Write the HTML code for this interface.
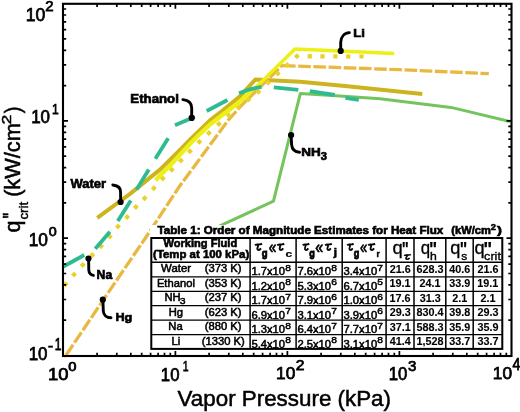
<!DOCTYPE html>
<html><head><meta charset="utf-8"><style>
html,body{margin:0;padding:0;background:#fff;}
svg{display:block;}
</style></head><body>
<svg width="520" height="412" viewBox="0 0 520 412">
<rect width="520" height="412" fill="#fff"/>
<path d="M200.0,235.0 L273.5,201.2 L300.3,93.6 L340.0,96.0 L380.0,98.8 L451.0,107.4 L510.0,121.6" fill="none" stroke="#74c45c" stroke-width="3" stroke-linecap="butt" stroke-linejoin="round"/>
<path d="M97.3,217.8 L130.0,193.9 L160.0,169.6 L182.0,148.0 L191.0,138.6 L211.0,119.5 L222.0,111.0 L240.0,96.4 L255.3,79.6 L300.0,81.8 L350.0,86.6 L422.3,94.0" fill="none" stroke="#cdb41e" stroke-width="4" stroke-linecap="butt" stroke-linejoin="round"/>
<path d="M64.5,357.5 L105.3,296.9 L145.3,238.2 L178.8,187.3 L228.0,120.5 L241.0,105.9 L258.0,89.2 L283.0,64.5" fill="none" stroke="#e8b840" stroke-width="3.3" stroke-linecap="butt" stroke-linejoin="round" stroke-dasharray="12.5 2.5" stroke-dashoffset="12.15"/>
<path d="M283.0,65.6 L400.0,69.7 L488.8,73.7" fill="none" stroke="#e8b840" stroke-width="3.3" stroke-linecap="butt" stroke-linejoin="round" stroke-dasharray="12.6 2.6"/>
<path d="M68.5,284.1 L65.3,281.3 L62.5,284.5 L65.7,287.3 Z M77.0,274.4 L73.8,271.6 L71.0,274.8 L74.2,277.6 Z M85.7,264.8 L82.6,261.9 L79.7,265.0 L82.8,267.9 Z M95.2,254.9 L92.2,251.9 L89.2,254.9 L92.2,257.9 Z M104.1,246.1 L101.0,243.2 L98.1,246.3 L101.2,249.2 Z M112.8,236.4 L109.6,233.6 L106.8,236.8 L110.0,239.6 Z M121.0,226.3 L117.8,223.5 L115.0,226.7 L118.2,229.5 Z M130.1,217.0 L127.0,214.1 L124.1,217.2 L127.2,220.1 Z M138.9,206.8 L135.8,203.9 L132.9,207.0 L136.0,209.9 Z M147.6,198.1 L144.5,195.2 L141.6,198.3 L144.7,201.2 Z M156.8,188.1 L153.7,185.2 L150.8,188.3 L153.9,191.2 Z M165.8,178.6 L162.8,175.6 L159.8,178.6 L162.8,181.6 Z M174.8,169.7 L171.8,166.7 L168.8,169.7 L171.8,172.7 Z M183.9,160.4 L180.9,157.4 L177.9,160.4 L180.9,163.4 Z M192.9,151.2 L189.9,148.2 L186.9,151.2 L189.9,154.2 Z M202.3,141.9 L199.4,138.8 L196.3,141.7 L199.2,144.8 Z M211.9,133.2 L209.0,130.1 L205.9,133.0 L208.8,136.1 Z M221.9,124.2 L219.1,121.0 L215.9,123.8 L218.7,127.0 Z M231.7,115.4 L228.9,112.2 L225.7,115.0 L228.5,118.2 Z M241.5,107.7 L238.9,104.3 L235.5,106.9 L238.1,110.3 Z M251.4,100.0 L248.8,96.6 L245.4,99.2 L248.0,102.6 Z M261.4,92.0 L258.6,88.8 L255.4,91.6 L258.2,94.8 Z M271.2,82.7 L268.3,79.6 L265.2,82.5 L268.1,85.6 Z M280.8,73.5 L277.9,70.4 L274.8,73.3 L277.7,76.4 Z M290.2,65.1 L287.4,61.9 L284.2,64.7 L287.0,67.9 Z M293.9,56.3 L296.9,53.3 L299.9,56.3 L296.9,59.3 Z M311.9,58.5 L312.0,54.2 L307.7,54.1 L307.6,58.4 Z M324.6,58.6 L324.7,54.3 L320.4,54.2 L320.3,58.5 Z M337.5,58.6 L337.6,54.3 L333.3,54.2 L333.2,58.5 Z M350.4,58.7 L350.5,54.4 L346.2,54.3 L346.1,58.6 Z M363.6,58.6 L363.6,54.4 L359.4,54.4 L359.4,58.6 Z" fill="#ebd22a"/>
<path d="M155.5,180.2 L170.0,165.6 L182.0,152.5 L191.0,142.8 L200.0,133.8 L211.0,123.7 L222.0,115.3 L240.0,101.5 L250.0,92.4" fill="none" stroke="#ecf014" stroke-width="4.3" stroke-linecap="butt" stroke-linejoin="round"/>
<path d="M240.0,101.5 L258.0,85.2 L294.9,49.0 L394.2,53.5" fill="none" stroke="#ecf014" stroke-width="3.4" stroke-linecap="butt" stroke-linejoin="round"/>
<path d="M63.4,266.5 L84.3,255.0 M95.3,248.8 L109.9,231.8 M117.8,220.9 L130.8,200.4 M136.6,189.5 L148.8,169.6 M155.4,158.7 L168.2,138.3 M175.0,125.3 L194.8,116.8 M206.7,111.0 L227.5,100.0 M239.0,93.3 L250.0,89.3 L261.5,86.8 M273.8,87.3 L298.3,89.8 M309.8,91.2 L334.8,95.0 M345.4,97.9 L358.8,99.8" fill="none" stroke="#2fbb92" stroke-width="3.8" stroke-linecap="butt" stroke-linejoin="round"/>
<path d="M112.8,185 C118,185.5 121,188 120.6,193 L120.6,202" fill="none" stroke="#000" stroke-width="2.9" stroke-linecap="round"/>
<circle cx="120.6" cy="202.0" r="3.1" fill="#000"/>
<text x="70.41" y="187.78" font-family="'Liberation Sans', Arial, sans-serif" font-size="13.44" font-weight="bold" textLength="35.66" lengthAdjust="spacingAndGlyphs" fill="#000" stroke="#000" stroke-width="0.65">Water</text>
<path d="M182.9,99.6 C188.5,100.2 191.7,103 191.7,108 L191.7,118" fill="none" stroke="#000" stroke-width="2.9" stroke-linecap="round"/>
<circle cx="191.7" cy="117.9" r="3.1" fill="#000"/>
<text x="130.34" y="103.47" font-family="'Liberation Sans', Arial, sans-serif" font-size="11.94" font-weight="bold" textLength="48.57" lengthAdjust="spacingAndGlyphs" fill="#000" stroke="#000" stroke-width="0.65">Ethanol</text>
<path d="M88.6,258.5 L88.8,270 C89,273 91,275 93.4,275.4" fill="none" stroke="#000" stroke-width="2.9" stroke-linecap="round"/>
<circle cx="88.5" cy="258.5" r="3.1" fill="#000"/>
<text x="96.61" y="278.57" font-family="'Liberation Sans', Arial, sans-serif" font-size="11.85" font-weight="bold" textLength="15.59" lengthAdjust="spacingAndGlyphs" fill="#000" stroke="#000" stroke-width="0.65">Na</text>
<path d="M102.9,299.7 L103.3,311 C103.5,315 106.5,317.7 111,317.8" fill="none" stroke="#000" stroke-width="2.9" stroke-linecap="round"/>
<circle cx="102.8" cy="299.7" r="3.1" fill="#000"/>
<text x="115.48" y="321.28" font-family="'Liberation Sans', Arial, sans-serif" font-size="11.70" font-weight="bold" textLength="16.84" lengthAdjust="spacingAndGlyphs" fill="#000" stroke="#000" stroke-width="0.65">Hg</text>
<path d="M291.1,135 L291.6,144.6 C292,149 295,152 299.6,152.2" fill="none" stroke="#000" stroke-width="2.9" stroke-linecap="round"/>
<circle cx="291.1" cy="135" r="3.1" fill="#000"/>
<text x="301.22" y="156.38" font-family="'Liberation Sans', Arial, sans-serif" font-size="11.12" font-weight="bold" textLength="19.46" lengthAdjust="spacingAndGlyphs" fill="#000" stroke="#000" stroke-width="0.65">NH</text>
<text x="320.87" y="160.08" font-family="'Liberation Sans', Arial, sans-serif" font-size="11.67" font-weight="bold" textLength="6.21" lengthAdjust="spacingAndGlyphs" fill="#000" stroke="#000" stroke-width="0.65">3</text>
<path d="M340.7,50.9 L340.7,42.3 C341,37 344,33 349.4,32.6" fill="none" stroke="#000" stroke-width="2.9" stroke-linecap="round"/>
<circle cx="340.7" cy="50.9" r="3.1" fill="#000"/>
<text x="353.35" y="37.17" font-family="'Liberation Sans', Arial, sans-serif" font-size="11.39" font-weight="bold" textLength="11.66" lengthAdjust="spacingAndGlyphs" fill="#000" stroke="#000" stroke-width="0.65">Li</text>
<rect x="150" y="225" width="354" height="125" fill="#fff"/>
<text x="157.47" y="234.40" font-family="'Liberation Sans', Arial, sans-serif" font-size="10.07" font-weight="bold" textLength="285.81" lengthAdjust="spacingAndGlyphs" fill="#000" stroke="#000" stroke-width="0.6">Table 1: Order of Magnitude Estimates for Heat Flux</text>
<text x="451.25" y="234.40" font-family="'Liberation Sans', Arial, sans-serif" font-size="10.76" font-weight="bold" textLength="39.54" lengthAdjust="spacingAndGlyphs" fill="#000" stroke="#000" stroke-width="0.6">(kW/cm</text>
<text x="490.83" y="229.55" font-family="'Liberation Sans', Arial, sans-serif" font-size="9.17" font-weight="bold" textLength="5.20" lengthAdjust="spacingAndGlyphs" fill="#000" stroke="#000" stroke-width="0.5">2</text>
<text x="496.99" y="234.40" font-family="'Liberation Sans', Arial, sans-serif" font-size="10.76" font-weight="bold" textLength="4.96" lengthAdjust="spacingAndGlyphs" fill="#000" stroke="#000" stroke-width="0.6">)</text>
<rect x="151.3" y="238.0" width="351.0" height="110.89999999999998" fill="none" stroke="#000" stroke-width="2"/>
<line x1="151.3" y1="262.3" x2="502.3" y2="262.3" stroke="#000" stroke-width="1.6"/>
<line x1="151.3" y1="276.9" x2="502.3" y2="276.9" stroke="#000" stroke-width="1.3"/>
<line x1="151.3" y1="291.3" x2="502.3" y2="291.3" stroke="#000" stroke-width="1.3"/>
<line x1="151.3" y1="305.7" x2="502.3" y2="305.7" stroke="#000" stroke-width="1.3"/>
<line x1="151.3" y1="320.2" x2="502.3" y2="320.2" stroke="#000" stroke-width="1.3"/>
<line x1="151.3" y1="334.7" x2="502.3" y2="334.7" stroke="#000" stroke-width="1.3"/>
<line x1="250.1" y1="238.0" x2="250.1" y2="348.9" stroke="#000" stroke-width="1.5"/>
<line x1="296.1" y1="238.0" x2="296.1" y2="348.9" stroke="#000" stroke-width="1.5"/>
<line x1="342.2" y1="238.0" x2="342.2" y2="348.9" stroke="#000" stroke-width="1.5"/>
<line x1="386.1" y1="238.0" x2="386.1" y2="348.9" stroke="#000" stroke-width="1.5"/>
<line x1="414.0" y1="238.0" x2="414.0" y2="348.9" stroke="#000" stroke-width="1.5"/>
<line x1="445.8" y1="238.0" x2="445.8" y2="348.9" stroke="#000" stroke-width="1.5"/>
<line x1="473.2" y1="238.0" x2="473.2" y2="348.9" stroke="#000" stroke-width="1.5"/>
<text x="163.46" y="246.82" font-family="'Liberation Sans', Arial, sans-serif" font-size="10.10" font-weight="bold" textLength="73.79" lengthAdjust="spacingAndGlyphs" fill="#000" stroke="#000" stroke-width="0.55">Working Fluid</text>
<text x="153.11" y="257.93" font-family="'Liberation Sans', Arial, sans-serif" font-size="10.70" font-weight="bold" textLength="96.08" lengthAdjust="spacingAndGlyphs" fill="#000" stroke="#000" stroke-width="0.55">(Temp at 100 kPa)</text>
<text x="252.13" y="251.49" font-family="IPAGothic, 'Liberation Sans', sans-serif" font-size="13.48" textLength="13.01" lengthAdjust="spacingAndGlyphs" fill="#000" stroke="#000" stroke-width="0.85" transform="translate(252.13,251.49) skewX(4) translate(-252.13,-251.49)">τ</text>
<text x="261.71" y="256.84" font-family="'Liberation Sans', Arial, sans-serif" font-size="10.66" font-weight="bold" textLength="5.83" lengthAdjust="spacingAndGlyphs" fill="#000" stroke="#000" stroke-width="0.8">g</text>
<text x="268.70" y="253.05" font-family="'Liberation Sans', Arial, sans-serif" font-size="17.43" textLength="7.61" lengthAdjust="spacingAndGlyphs" fill="#000" stroke="#000" stroke-width="0.7">«</text>
<text x="274.63" y="251.49" font-family="IPAGothic, 'Liberation Sans', sans-serif" font-size="13.48" textLength="13.01" lengthAdjust="spacingAndGlyphs" fill="#000" stroke="#000" stroke-width="0.85" transform="translate(274.63,251.49) skewX(4) translate(-274.63,-251.49)">τ</text>
<text x="285.54" y="257.12" font-family="'Liberation Sans', Arial, sans-serif" font-size="8.21" font-weight="bold" textLength="6.61" lengthAdjust="spacingAndGlyphs" fill="#000" stroke="#000" stroke-width="0.2">c</text>
<text x="300.16" y="251.49" font-family="IPAGothic, 'Liberation Sans', sans-serif" font-size="13.48" textLength="12.07" lengthAdjust="spacingAndGlyphs" fill="#000" stroke="#000" stroke-width="0.85" transform="translate(300.16,251.49) skewX(4) translate(-300.16,-251.49)">τ</text>
<text x="309.22" y="256.84" font-family="'Liberation Sans', Arial, sans-serif" font-size="10.66" font-weight="bold" textLength="5.59" lengthAdjust="spacingAndGlyphs" fill="#000" stroke="#000" stroke-width="0.8">g</text>
<text x="315.37" y="253.05" font-family="'Liberation Sans', Arial, sans-serif" font-size="17.43" textLength="7.96" lengthAdjust="spacingAndGlyphs" fill="#000" stroke="#000" stroke-width="0.7">«</text>
<text x="322.57" y="251.49" font-family="IPAGothic, 'Liberation Sans', sans-serif" font-size="13.48" textLength="12.45" lengthAdjust="spacingAndGlyphs" fill="#000" stroke="#000" stroke-width="0.85" transform="translate(322.57,251.49) skewX(4) translate(-322.57,-251.49)">τ</text>
<text x="333.53" y="256.05" font-family="'Liberation Sans', Arial, sans-serif" font-size="11.21" font-weight="bold" textLength="3.67" lengthAdjust="spacingAndGlyphs" fill="#000" stroke="#000" stroke-width="0.45">j</text>
<text x="344.71" y="251.49" font-family="IPAGothic, 'Liberation Sans', sans-serif" font-size="13.48" textLength="11.89" lengthAdjust="spacingAndGlyphs" fill="#000" stroke="#000" stroke-width="0.85" transform="translate(344.71,251.49) skewX(4) translate(-344.71,-251.49)">τ</text>
<text x="353.72" y="256.84" font-family="'Liberation Sans', Arial, sans-serif" font-size="10.66" font-weight="bold" textLength="5.59" lengthAdjust="spacingAndGlyphs" fill="#000" stroke="#000" stroke-width="0.8">g</text>
<text x="360.12" y="253.05" font-family="'Liberation Sans', Arial, sans-serif" font-size="17.43" textLength="7.26" lengthAdjust="spacingAndGlyphs" fill="#000" stroke="#000" stroke-width="0.7">«</text>
<text x="365.48" y="251.49" font-family="IPAGothic, 'Liberation Sans', sans-serif" font-size="13.48" textLength="12.82" lengthAdjust="spacingAndGlyphs" fill="#000" stroke="#000" stroke-width="0.85" transform="translate(365.48,251.49) skewX(4) translate(-365.48,-251.49)">τ</text>
<text x="376.38" y="257.38" font-family="'Liberation Sans', Arial, sans-serif" font-size="8.63" font-weight="bold" textLength="3.22" lengthAdjust="spacingAndGlyphs" fill="#000" stroke="#000" stroke-width="0.45">r</text>
<text x="392.58" y="253.73" font-family="'Liberation Sans', Arial, sans-serif" font-size="17.44" textLength="10.25" lengthAdjust="spacingAndGlyphs" fill="#000" stroke="#000" stroke-width="0.3">q</text>
<text x="401.72" y="255.54" font-family="'Liberation Sans', Arial, sans-serif" font-size="20.84" font-weight="bold" textLength="7.06" lengthAdjust="spacingAndGlyphs" fill="#000" stroke="#000" stroke-width="0.2">&quot;</text>
<text x="401.14" y="260.11" font-family="IPAGothic, 'Liberation Sans', sans-serif" font-size="10.18" textLength="12.54" lengthAdjust="spacingAndGlyphs" fill="#000" stroke="#000" stroke-width="0.6">τ</text>
<text x="420.84" y="253.73" font-family="'Liberation Sans', Arial, sans-serif" font-size="17.44" textLength="9.39" lengthAdjust="spacingAndGlyphs" fill="#000" stroke="#000" stroke-width="0.3">q</text>
<text x="429.06" y="255.54" font-family="'Liberation Sans', Arial, sans-serif" font-size="20.84" font-weight="bold" textLength="8.17" lengthAdjust="spacingAndGlyphs" fill="#000" stroke="#000" stroke-width="0.2">&quot;</text>
<text x="430.03" y="260.33" font-family="'Liberation Sans', Arial, sans-serif" font-size="10.01" textLength="6.79" lengthAdjust="spacingAndGlyphs" fill="#000" stroke="#000" stroke-width="0.35">h</text>
<text x="450.39" y="253.73" font-family="'Liberation Sans', Arial, sans-serif" font-size="17.44" textLength="10.13" lengthAdjust="spacingAndGlyphs" fill="#000" stroke="#000" stroke-width="0.3">q</text>
<text x="459.86" y="255.54" font-family="'Liberation Sans', Arial, sans-serif" font-size="20.84" font-weight="bold" textLength="7.48" lengthAdjust="spacingAndGlyphs" fill="#000" stroke="#000" stroke-width="0.2">&quot;</text>
<text x="461.24" y="260.42" font-family="'Liberation Sans', Arial, sans-serif" font-size="10.52" textLength="6.02" lengthAdjust="spacingAndGlyphs" fill="#000" stroke="#000" stroke-width="0.35">s</text>
<text x="474.59" y="253.73" font-family="'Liberation Sans', Arial, sans-serif" font-size="17.44" textLength="10.13" lengthAdjust="spacingAndGlyphs" fill="#000" stroke="#000" stroke-width="0.3">q</text>
<text x="483.35" y="255.54" font-family="'Liberation Sans', Arial, sans-serif" font-size="20.84" font-weight="bold" textLength="9.00" lengthAdjust="spacingAndGlyphs" fill="#000" stroke="#000" stroke-width="0.2">&quot;</text>
<text x="484.14" y="260.42" font-family="'Liberation Sans', Arial, sans-serif" font-size="11.10" textLength="16.78" lengthAdjust="spacingAndGlyphs" fill="#000" stroke="#000" stroke-width="0.35">crit</text>
<text x="161.13" y="272.30" font-family="'Liberation Sans', Arial, sans-serif" font-size="10.0" textLength="29.87" lengthAdjust="spacingAndGlyphs" fill="#000" stroke="#000" stroke-width="0.5">Water</text>
<text x="204.84" y="272.30" font-family="'Liberation Sans', Arial, sans-serif" font-size="10.0" textLength="36.73" lengthAdjust="spacingAndGlyphs" fill="#000" stroke="#000" stroke-width="0.5">(373 K)</text>
<text x="251.40" y="275.40" font-family="'Liberation Sans', Arial, sans-serif" font-size="10.4" textLength="33.72" lengthAdjust="spacingAndGlyphs" fill="#000" stroke="#000" stroke-width="0.5">1.7x10</text>
<text x="285.24" y="270.80" font-family="'Liberation Sans', Arial, sans-serif" font-size="9.8" textLength="5.72" lengthAdjust="spacingAndGlyphs" fill="#000" stroke="#000" stroke-width="0.5">8</text>
<text x="297.40" y="275.40" font-family="'Liberation Sans', Arial, sans-serif" font-size="10.4" textLength="33.72" lengthAdjust="spacingAndGlyphs" fill="#000" stroke="#000" stroke-width="0.5">7.6x10</text>
<text x="331.24" y="270.80" font-family="'Liberation Sans', Arial, sans-serif" font-size="9.8" textLength="5.72" lengthAdjust="spacingAndGlyphs" fill="#000" stroke="#000" stroke-width="0.5">8</text>
<text x="343.50" y="275.40" font-family="'Liberation Sans', Arial, sans-serif" font-size="10.4" textLength="33.72" lengthAdjust="spacingAndGlyphs" fill="#000" stroke="#000" stroke-width="0.5">3.4x10</text>
<text x="377.26" y="270.80" font-family="'Liberation Sans', Arial, sans-serif" font-size="9.8" textLength="5.72" lengthAdjust="spacingAndGlyphs" fill="#000" stroke="#000" stroke-width="0.5">7</text>
<text x="389.75" y="272.80" font-family="'Liberation Sans', Arial, sans-serif" font-size="10.8" font-weight="bold" fill="#000" stroke="#000" stroke-width="0.1">21.6</text>
<text x="416.58" y="272.80" font-family="'Liberation Sans', Arial, sans-serif" font-size="10.8" font-weight="bold" fill="#000" stroke="#000" stroke-width="0.1">628.3</text>
<text x="449.30" y="272.80" font-family="'Liberation Sans', Arial, sans-serif" font-size="10.8" font-weight="bold" fill="#000" stroke="#000" stroke-width="0.1">40.6</text>
<text x="477.45" y="272.80" font-family="'Liberation Sans', Arial, sans-serif" font-size="10.8" font-weight="bold" fill="#000" stroke="#000" stroke-width="0.1">21.6</text>
<text x="156.92" y="286.90" font-family="'Liberation Sans', Arial, sans-serif" font-size="10.0" textLength="37.99" lengthAdjust="spacingAndGlyphs" fill="#000" stroke="#000" stroke-width="0.5">Ethanol</text>
<text x="204.84" y="286.90" font-family="'Liberation Sans', Arial, sans-serif" font-size="10.0" textLength="36.73" lengthAdjust="spacingAndGlyphs" fill="#000" stroke="#000" stroke-width="0.5">(353 K)</text>
<text x="251.40" y="290.00" font-family="'Liberation Sans', Arial, sans-serif" font-size="10.4" textLength="33.72" lengthAdjust="spacingAndGlyphs" fill="#000" stroke="#000" stroke-width="0.5">1.2x10</text>
<text x="285.24" y="285.40" font-family="'Liberation Sans', Arial, sans-serif" font-size="9.8" textLength="5.72" lengthAdjust="spacingAndGlyphs" fill="#000" stroke="#000" stroke-width="0.5">8</text>
<text x="297.40" y="290.00" font-family="'Liberation Sans', Arial, sans-serif" font-size="10.4" textLength="33.72" lengthAdjust="spacingAndGlyphs" fill="#000" stroke="#000" stroke-width="0.5">5.3x10</text>
<text x="331.16" y="285.40" font-family="'Liberation Sans', Arial, sans-serif" font-size="9.8" textLength="5.72" lengthAdjust="spacingAndGlyphs" fill="#000" stroke="#000" stroke-width="0.5">6</text>
<text x="343.50" y="290.00" font-family="'Liberation Sans', Arial, sans-serif" font-size="10.4" textLength="33.72" lengthAdjust="spacingAndGlyphs" fill="#000" stroke="#000" stroke-width="0.5">6.7x10</text>
<text x="377.37" y="285.40" font-family="'Liberation Sans', Arial, sans-serif" font-size="9.8" textLength="5.72" lengthAdjust="spacingAndGlyphs" fill="#000" stroke="#000" stroke-width="0.5">5</text>
<text x="389.55" y="287.40" font-family="'Liberation Sans', Arial, sans-serif" font-size="10.8" font-weight="bold" fill="#000" stroke="#000" stroke-width="0.1">19.1</text>
<text x="419.55" y="287.40" font-family="'Liberation Sans', Arial, sans-serif" font-size="10.8" font-weight="bold" fill="#000" stroke="#000" stroke-width="0.1">24.1</text>
<text x="449.27" y="287.40" font-family="'Liberation Sans', Arial, sans-serif" font-size="10.8" font-weight="bold" fill="#000" stroke="#000" stroke-width="0.1">33.9</text>
<text x="477.25" y="287.40" font-family="'Liberation Sans', Arial, sans-serif" font-size="10.8" font-weight="bold" fill="#000" stroke="#000" stroke-width="0.1">19.1</text>
<text x="164.48" y="301.30" font-family="'Liberation Sans', Arial, sans-serif" font-size="10.0" textLength="16.18" lengthAdjust="spacingAndGlyphs" fill="#000" stroke="#000" stroke-width="0.5">NH</text>
<text x="179.75" y="304.30" font-family="'Liberation Sans', Arial, sans-serif" font-size="9.5" textLength="5.81" lengthAdjust="spacingAndGlyphs" fill="#000" stroke="#000" stroke-width="0.5">3</text>
<text x="204.84" y="301.30" font-family="'Liberation Sans', Arial, sans-serif" font-size="10.0" textLength="36.73" lengthAdjust="spacingAndGlyphs" fill="#000" stroke="#000" stroke-width="0.5">(237 K)</text>
<text x="251.40" y="304.40" font-family="'Liberation Sans', Arial, sans-serif" font-size="10.4" textLength="33.72" lengthAdjust="spacingAndGlyphs" fill="#000" stroke="#000" stroke-width="0.5">1.7x10</text>
<text x="285.16" y="299.80" font-family="'Liberation Sans', Arial, sans-serif" font-size="9.8" textLength="5.72" lengthAdjust="spacingAndGlyphs" fill="#000" stroke="#000" stroke-width="0.5">7</text>
<text x="297.40" y="304.40" font-family="'Liberation Sans', Arial, sans-serif" font-size="10.4" textLength="33.72" lengthAdjust="spacingAndGlyphs" fill="#000" stroke="#000" stroke-width="0.5">7.9x10</text>
<text x="331.16" y="299.80" font-family="'Liberation Sans', Arial, sans-serif" font-size="9.8" textLength="5.72" lengthAdjust="spacingAndGlyphs" fill="#000" stroke="#000" stroke-width="0.5">6</text>
<text x="343.50" y="304.40" font-family="'Liberation Sans', Arial, sans-serif" font-size="10.4" textLength="33.72" lengthAdjust="spacingAndGlyphs" fill="#000" stroke="#000" stroke-width="0.5">1.0x10</text>
<text x="377.26" y="299.80" font-family="'Liberation Sans', Arial, sans-serif" font-size="9.8" textLength="5.72" lengthAdjust="spacingAndGlyphs" fill="#000" stroke="#000" stroke-width="0.5">6</text>
<text x="389.60" y="301.80" font-family="'Liberation Sans', Arial, sans-serif" font-size="10.8" font-weight="bold" fill="#000" stroke="#000" stroke-width="0.1">17.6</text>
<text x="419.66" y="301.80" font-family="'Liberation Sans', Arial, sans-serif" font-size="10.8" font-weight="bold" fill="#000" stroke="#000" stroke-width="0.1">31.3</text>
<text x="452.16" y="301.80" font-family="'Liberation Sans', Arial, sans-serif" font-size="10.8" font-weight="bold" fill="#000" stroke="#000" stroke-width="0.1">2.1</text>
<text x="480.41" y="301.80" font-family="'Liberation Sans', Arial, sans-serif" font-size="10.8" font-weight="bold" fill="#000" stroke="#000" stroke-width="0.1">2.1</text>
<text x="168.74" y="315.70" font-family="'Liberation Sans', Arial, sans-serif" font-size="10.0" textLength="14.32" lengthAdjust="spacingAndGlyphs" fill="#000" stroke="#000" stroke-width="0.5">Hg</text>
<text x="204.84" y="315.70" font-family="'Liberation Sans', Arial, sans-serif" font-size="10.0" textLength="36.73" lengthAdjust="spacingAndGlyphs" fill="#000" stroke="#000" stroke-width="0.5">(623 K)</text>
<text x="251.40" y="318.80" font-family="'Liberation Sans', Arial, sans-serif" font-size="10.4" textLength="33.72" lengthAdjust="spacingAndGlyphs" fill="#000" stroke="#000" stroke-width="0.5">6.9x10</text>
<text x="285.16" y="314.20" font-family="'Liberation Sans', Arial, sans-serif" font-size="9.8" textLength="5.72" lengthAdjust="spacingAndGlyphs" fill="#000" stroke="#000" stroke-width="0.5">7</text>
<text x="297.40" y="318.80" font-family="'Liberation Sans', Arial, sans-serif" font-size="10.4" textLength="33.72" lengthAdjust="spacingAndGlyphs" fill="#000" stroke="#000" stroke-width="0.5">3.1x10</text>
<text x="331.16" y="314.20" font-family="'Liberation Sans', Arial, sans-serif" font-size="9.8" textLength="5.72" lengthAdjust="spacingAndGlyphs" fill="#000" stroke="#000" stroke-width="0.5">7</text>
<text x="343.50" y="318.80" font-family="'Liberation Sans', Arial, sans-serif" font-size="10.4" textLength="33.72" lengthAdjust="spacingAndGlyphs" fill="#000" stroke="#000" stroke-width="0.5">3.9x10</text>
<text x="377.26" y="314.20" font-family="'Liberation Sans', Arial, sans-serif" font-size="9.8" textLength="5.72" lengthAdjust="spacingAndGlyphs" fill="#000" stroke="#000" stroke-width="0.5">6</text>
<text x="389.75" y="316.20" font-family="'Liberation Sans', Arial, sans-serif" font-size="10.8" font-weight="bold" fill="#000" stroke="#000" stroke-width="0.1">29.3</text>
<text x="416.44" y="316.20" font-family="'Liberation Sans', Arial, sans-serif" font-size="10.8" font-weight="bold" fill="#000" stroke="#000" stroke-width="0.1">830.4</text>
<text x="449.23" y="316.20" font-family="'Liberation Sans', Arial, sans-serif" font-size="10.8" font-weight="bold" fill="#000" stroke="#000" stroke-width="0.1">39.8</text>
<text x="477.45" y="316.20" font-family="'Liberation Sans', Arial, sans-serif" font-size="10.8" font-weight="bold" fill="#000" stroke="#000" stroke-width="0.1">29.3</text>
<text x="168.38" y="330.20" font-family="'Liberation Sans', Arial, sans-serif" font-size="10.0" textLength="14.32" lengthAdjust="spacingAndGlyphs" fill="#000" stroke="#000" stroke-width="0.5">Na</text>
<text x="204.84" y="330.20" font-family="'Liberation Sans', Arial, sans-serif" font-size="10.0" textLength="36.73" lengthAdjust="spacingAndGlyphs" fill="#000" stroke="#000" stroke-width="0.5">(880 K)</text>
<text x="251.40" y="333.30" font-family="'Liberation Sans', Arial, sans-serif" font-size="10.4" textLength="33.72" lengthAdjust="spacingAndGlyphs" fill="#000" stroke="#000" stroke-width="0.5">1.3x10</text>
<text x="285.24" y="328.70" font-family="'Liberation Sans', Arial, sans-serif" font-size="9.8" textLength="5.72" lengthAdjust="spacingAndGlyphs" fill="#000" stroke="#000" stroke-width="0.5">8</text>
<text x="297.40" y="333.30" font-family="'Liberation Sans', Arial, sans-serif" font-size="10.4" textLength="33.72" lengthAdjust="spacingAndGlyphs" fill="#000" stroke="#000" stroke-width="0.5">6.4x10</text>
<text x="331.16" y="328.70" font-family="'Liberation Sans', Arial, sans-serif" font-size="9.8" textLength="5.72" lengthAdjust="spacingAndGlyphs" fill="#000" stroke="#000" stroke-width="0.5">7</text>
<text x="343.50" y="333.30" font-family="'Liberation Sans', Arial, sans-serif" font-size="10.4" textLength="33.72" lengthAdjust="spacingAndGlyphs" fill="#000" stroke="#000" stroke-width="0.5">7.7x10</text>
<text x="377.26" y="328.70" font-family="'Liberation Sans', Arial, sans-serif" font-size="9.8" textLength="5.72" lengthAdjust="spacingAndGlyphs" fill="#000" stroke="#000" stroke-width="0.5">7</text>
<text x="389.77" y="330.70" font-family="'Liberation Sans', Arial, sans-serif" font-size="10.8" font-weight="bold" fill="#000" stroke="#000" stroke-width="0.1">37.1</text>
<text x="416.62" y="330.70" font-family="'Liberation Sans', Arial, sans-serif" font-size="10.8" font-weight="bold" fill="#000" stroke="#000" stroke-width="0.1">588.3</text>
<text x="449.27" y="330.70" font-family="'Liberation Sans', Arial, sans-serif" font-size="10.8" font-weight="bold" fill="#000" stroke="#000" stroke-width="0.1">35.9</text>
<text x="477.52" y="330.70" font-family="'Liberation Sans', Arial, sans-serif" font-size="10.8" font-weight="bold" fill="#000" stroke="#000" stroke-width="0.1">35.9</text>
<text x="171.56" y="344.70" font-family="'Liberation Sans', Arial, sans-serif" font-size="10.0" textLength="8.72" lengthAdjust="spacingAndGlyphs" fill="#000" stroke="#000" stroke-width="0.5">Li</text>
<text x="201.72" y="344.70" font-family="'Liberation Sans', Arial, sans-serif" font-size="10.0" textLength="42.96" lengthAdjust="spacingAndGlyphs" fill="#000" stroke="#000" stroke-width="0.5">(1330 K)</text>
<text x="251.40" y="347.80" font-family="'Liberation Sans', Arial, sans-serif" font-size="10.4" textLength="33.72" lengthAdjust="spacingAndGlyphs" fill="#000" stroke="#000" stroke-width="0.5">5.4x10</text>
<text x="285.24" y="343.20" font-family="'Liberation Sans', Arial, sans-serif" font-size="9.8" textLength="5.72" lengthAdjust="spacingAndGlyphs" fill="#000" stroke="#000" stroke-width="0.5">8</text>
<text x="297.40" y="347.80" font-family="'Liberation Sans', Arial, sans-serif" font-size="10.4" textLength="33.72" lengthAdjust="spacingAndGlyphs" fill="#000" stroke="#000" stroke-width="0.5">2.5x10</text>
<text x="331.24" y="343.20" font-family="'Liberation Sans', Arial, sans-serif" font-size="9.8" textLength="5.72" lengthAdjust="spacingAndGlyphs" fill="#000" stroke="#000" stroke-width="0.5">8</text>
<text x="343.50" y="347.80" font-family="'Liberation Sans', Arial, sans-serif" font-size="10.4" textLength="33.72" lengthAdjust="spacingAndGlyphs" fill="#000" stroke="#000" stroke-width="0.5">3.1x10</text>
<text x="377.34" y="343.20" font-family="'Liberation Sans', Arial, sans-serif" font-size="9.8" textLength="5.72" lengthAdjust="spacingAndGlyphs" fill="#000" stroke="#000" stroke-width="0.5">8</text>
<text x="389.69" y="345.20" font-family="'Liberation Sans', Arial, sans-serif" font-size="10.8" font-weight="bold" fill="#000" stroke="#000" stroke-width="0.1">41.4</text>
<text x="416.41" y="345.20" font-family="'Liberation Sans', Arial, sans-serif" font-size="10.8" font-weight="bold" fill="#000" stroke="#000" stroke-width="0.1">1,528</text>
<text x="449.30" y="345.20" font-family="'Liberation Sans', Arial, sans-serif" font-size="10.8" font-weight="bold" fill="#000" stroke="#000" stroke-width="0.1">33.7</text>
<text x="477.55" y="345.20" font-family="'Liberation Sans', Arial, sans-serif" font-size="10.8" font-weight="bold" fill="#000" stroke="#000" stroke-width="0.1">33.7</text>
<rect x="63.0" y="3.8" width="448.5" height="352.2" fill="none" stroke="#000" stroke-width="2.1"/>
<path d="M97.1,356.0 v-3.2 M97.1,3.8 v3.2 M116.8,356.0 v-3.2 M116.8,3.8 v3.2 M130.8,356.0 v-3.2 M130.8,3.8 v3.2 M141.7,356.0 v-3.2 M141.7,3.8 v3.2 M150.6,356.0 v-3.2 M150.6,3.8 v3.2 M158.1,356.0 v-3.2 M158.1,3.8 v3.2 M164.5,356.0 v-3.2 M164.5,3.8 v3.2 M170.3,356.0 v-3.2 M170.3,3.8 v3.2 M175.4,356.0 v-5.0 M175.4,3.8 v5.0 M209.1,356.0 v-3.2 M209.1,3.8 v3.2 M228.8,356.0 v-3.2 M228.8,3.8 v3.2 M242.8,356.0 v-3.2 M242.8,3.8 v3.2 M253.7,356.0 v-3.2 M253.7,3.8 v3.2 M262.6,356.0 v-3.2 M262.6,3.8 v3.2 M270.1,356.0 v-3.2 M270.1,3.8 v3.2 M276.5,356.0 v-3.2 M276.5,3.8 v3.2 M282.3,356.0 v-3.2 M282.3,3.8 v3.2 M287.4,356.0 v-5.0 M287.4,3.8 v5.0 M321.1,356.0 v-3.2 M321.1,3.8 v3.2 M340.8,356.0 v-3.2 M340.8,3.8 v3.2 M354.8,356.0 v-3.2 M354.8,3.8 v3.2 M365.7,356.0 v-3.2 M365.7,3.8 v3.2 M374.6,356.0 v-3.2 M374.6,3.8 v3.2 M382.1,356.0 v-3.2 M382.1,3.8 v3.2 M388.5,356.0 v-3.2 M388.5,3.8 v3.2 M394.3,356.0 v-3.2 M394.3,3.8 v3.2 M399.4,356.0 v-5.0 M399.4,3.8 v5.0 M433.1,356.0 v-3.2 M433.1,3.8 v3.2 M452.8,356.0 v-3.2 M452.8,3.8 v3.2 M466.8,356.0 v-3.2 M466.8,3.8 v3.2 M477.7,356.0 v-3.2 M477.7,3.8 v3.2 M486.6,356.0 v-3.2 M486.6,3.8 v3.2 M494.1,356.0 v-3.2 M494.1,3.8 v3.2 M500.5,356.0 v-3.2 M500.5,3.8 v3.2 M506.3,356.0 v-3.2 M506.3,3.8 v3.2 M63.0,320.2 h3.2 M511.5,320.2 h-3.2 M63.0,299.5 h3.2 M511.5,299.5 h-3.2 M63.0,284.9 h3.2 M511.5,284.9 h-3.2 M63.0,273.5 h3.2 M511.5,273.5 h-3.2 M63.0,264.2 h3.2 M511.5,264.2 h-3.2 M63.0,256.4 h3.2 M511.5,256.4 h-3.2 M63.0,249.6 h3.2 M511.5,249.6 h-3.2 M63.0,243.6 h3.2 M511.5,243.6 h-3.2 M63.0,238.2 h5.0 M511.5,238.2 h-5.0 M63.0,202.9 h3.2 M511.5,202.9 h-3.2 M63.0,182.2 h3.2 M511.5,182.2 h-3.2 M63.0,167.6 h3.2 M511.5,167.6 h-3.2 M63.0,156.2 h3.2 M511.5,156.2 h-3.2 M63.0,146.9 h3.2 M511.5,146.9 h-3.2 M63.0,139.1 h3.2 M511.5,139.1 h-3.2 M63.0,132.3 h3.2 M511.5,132.3 h-3.2 M63.0,126.3 h3.2 M511.5,126.3 h-3.2 M63.0,120.9 h5.0 M511.5,120.9 h-5.0 M63.0,85.6 h3.2 M511.5,85.6 h-3.2 M63.0,64.9 h3.2 M511.5,64.9 h-3.2 M63.0,50.3 h3.2 M511.5,50.3 h-3.2 M63.0,38.9 h3.2 M511.5,38.9 h-3.2 M63.0,29.6 h3.2 M511.5,29.6 h-3.2 M63.0,21.8 h3.2 M511.5,21.8 h-3.2 M63.0,15.0 h3.2 M511.5,15.0 h-3.2 M63.0,9.0 h3.2 M511.5,9.0 h-3.2" stroke="#000" stroke-width="1.7" fill="none"/>
<text x="25.68" y="20.82" font-family="'Liberation Sans', Arial, sans-serif" font-size="17.97" textLength="19.63" lengthAdjust="spacingAndGlyphs" fill="#000" stroke="#000" stroke-width="0.75">10</text>
<text x="45.22" y="10.82" font-family="'Liberation Sans', Arial, sans-serif" font-size="14.11" textLength="8.36" lengthAdjust="spacingAndGlyphs" fill="#000" stroke="#000" stroke-width="0.75">2</text>
<text x="31.15" y="123.22" font-family="'Liberation Sans', Arial, sans-serif" font-size="17.54" textLength="18.84" lengthAdjust="spacingAndGlyphs" fill="#000" stroke="#000" stroke-width="0.75">10</text>
<text x="52.01" y="114.03" font-family="'Liberation Sans', Arial, sans-serif" font-size="14.90" textLength="6.72" lengthAdjust="spacingAndGlyphs" fill="#000" stroke="#000" stroke-width="0.75">1</text>
<text x="28.71" y="246.22" font-family="'Liberation Sans', Arial, sans-serif" font-size="17.69" textLength="19.29" lengthAdjust="spacingAndGlyphs" fill="#000" stroke="#000" stroke-width="0.75">10</text>
<text x="48.72" y="236.43" font-family="'Liberation Sans', Arial, sans-serif" font-size="13.25" textLength="7.97" lengthAdjust="spacingAndGlyphs" fill="#000" stroke="#000" stroke-width="0.75">0</text>
<text x="28.65" y="359.52" font-family="'Liberation Sans', Arial, sans-serif" font-size="18.40" textLength="18.84" lengthAdjust="spacingAndGlyphs" fill="#000" stroke="#000" stroke-width="0.75">10</text>
<text x="47.63" y="350.62" font-family="'Liberation Sans', Arial, sans-serif" font-size="16.64" textLength="6.14" lengthAdjust="spacingAndGlyphs" fill="#000" stroke="#000" stroke-width="0.3">-</text>
<text x="54.81" y="350.02" font-family="'Liberation Sans', Arial, sans-serif" font-size="16.50" textLength="6.72" lengthAdjust="spacingAndGlyphs" fill="#000" stroke="#000" stroke-width="0.75">1</text>
<text x="48.11" y="379.52" font-family="'Liberation Sans', Arial, sans-serif" font-size="16.11" textLength="20.43" lengthAdjust="spacingAndGlyphs" fill="#000" stroke="#000" stroke-width="0.75">10</text>
<text x="68.20" y="370.52" font-family="'Liberation Sans', Arial, sans-serif" font-size="11.96" textLength="8.20" lengthAdjust="spacingAndGlyphs" fill="#000" stroke="#000" stroke-width="0.75">0</text>
<text x="160.87" y="380.62" font-family="'Liberation Sans', Arial, sans-serif" font-size="18.12" textLength="18.61" lengthAdjust="spacingAndGlyphs" fill="#000" stroke="#000" stroke-width="0.75">10</text>
<text x="182.67" y="370.93" font-family="'Liberation Sans', Arial, sans-serif" font-size="15.48" textLength="5.81" lengthAdjust="spacingAndGlyphs" fill="#000" stroke="#000" stroke-width="0.75">1</text>
<text x="276.12" y="378.62" font-family="'Liberation Sans', Arial, sans-serif" font-size="17.26" textLength="19.18" lengthAdjust="spacingAndGlyphs" fill="#000" stroke="#000" stroke-width="0.75">10</text>
<text x="295.79" y="369.52" font-family="'Liberation Sans', Arial, sans-serif" font-size="14.68" textLength="8.73" lengthAdjust="spacingAndGlyphs" fill="#000" stroke="#000" stroke-width="0.75">2</text>
<text x="388.77" y="380.12" font-family="'Liberation Sans', Arial, sans-serif" font-size="18.12" textLength="18.61" lengthAdjust="spacingAndGlyphs" fill="#000" stroke="#000" stroke-width="0.75">10</text>
<text x="408.10" y="370.52" font-family="'Liberation Sans', Arial, sans-serif" font-size="14.68" textLength="8.39" lengthAdjust="spacingAndGlyphs" fill="#000" stroke="#000" stroke-width="0.75">3</text>
<text x="492.82" y="379.12" font-family="'Liberation Sans', Arial, sans-serif" font-size="17.40" textLength="19.18" lengthAdjust="spacingAndGlyphs" fill="#000" stroke="#000" stroke-width="0.75">10</text>
<text x="512.44" y="370.02" font-family="'Liberation Sans', Arial, sans-serif" font-size="15.63" textLength="8.00" lengthAdjust="spacingAndGlyphs" fill="#000" stroke="#000" stroke-width="0.75">4</text>
<text x="177.55" y="406.35" font-family="'Liberation Sans', Arial, sans-serif" font-size="21.80" textLength="213.47" lengthAdjust="spacingAndGlyphs" fill="#000" stroke="#000" stroke-width="0.5">Vapor Pressure (kPa)</text>
<g transform="translate(20.2,232) rotate(-90)">
<text x="-0.53" y="-0.28" font-family="'Liberation Sans', Arial, sans-serif" font-size="21.65" textLength="11.92" lengthAdjust="spacingAndGlyphs" fill="#000" stroke="#000" stroke-width="0.55">q</text>
<text x="13.28" y="-2.94" font-family="'Liberation Sans', Arial, sans-serif" font-size="19.64" font-weight="bold" textLength="6.23" lengthAdjust="spacingAndGlyphs" fill="#000" stroke="#000" stroke-width="0.5">&quot;</text>
<text x="12.46" y="8.18" font-family="'Liberation Sans', Arial, sans-serif" font-size="12.77" textLength="17.61" lengthAdjust="spacingAndGlyphs" fill="#000" stroke="#000" stroke-width="0.45">crit</text>
<text x="35.13" y="-0.28" font-family="'Liberation Sans', Arial, sans-serif" font-size="22.56" textLength="73.63" lengthAdjust="spacingAndGlyphs" fill="#000" stroke="#000" stroke-width="0.55">(kW/cm</text>
<text x="107.82" y="-9.58" font-family="'Liberation Sans', Arial, sans-serif" font-size="12.39" textLength="9.46" lengthAdjust="spacingAndGlyphs" fill="#000" stroke="#000" stroke-width="0.55">2</text>
<text x="118.86" y="-0.28" font-family="'Liberation Sans', Arial, sans-serif" font-size="22.56" textLength="6.72" lengthAdjust="spacingAndGlyphs" fill="#000" stroke="#000" stroke-width="0.55">)</text>
</g>
</svg>
</body></html>
